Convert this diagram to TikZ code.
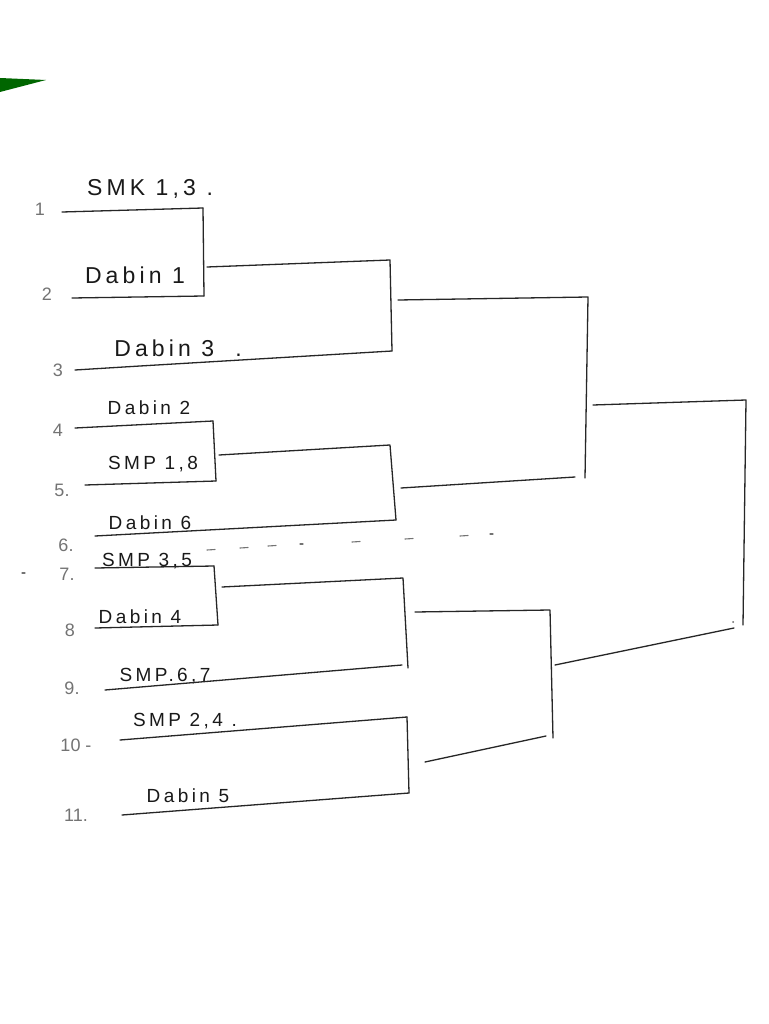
\documentclass[tikz,border=0pt]{standalone}
\usepackage{fontspec}
\setmainfont{Liberation Sans}
\newfontfamily\handfont[LetterSpace=18]{Liberation Sans}
\begin{document}
\begin{tikzpicture}[x=1pt,y=-1pt,
  ink/.style={draw=black!85, line width=1.3pt, line cap=round, line join=round},
  lbl/.style={font=\handfont\fontsize{23}{25}\selectfont, text=black!90, inner sep=0pt},
  small/.style={font=\handfont\fontsize{19}{21}\selectfont},
  num/.style={font=\fontsize{18}{20}\selectfont, text=black!55, inner sep=0pt},
  sep/.style={draw=black!55, line width=1.1pt, line cap=round}]
\useasboundingbox (0,0) rectangle (768,1024);
\fill[white] (0,0) rectangle (768,1024);
\fill[green!40!black] (0,78) -- (46,80) -- (0,92) -- cycle;

% number nodes
\node[num] (n1) at (40,209) {1};
\node[num] (n2) at (47,294) {2};
\node[num] (n3) at (58,370) {3};
\node[num] (n4) at (58,430) {4};
\node[num] (n5) at (62,490) {5.};
\node[num] (n6) at (66,545) {6.};
\node[num] (n7) at (67,574) {7.};
\node[num] (n8) at (70,630) {8};
\node[num] (n9) at (72,688) {9.};
\node[num] (n10) at (76,745) {10 -};
\node[num] (n11) at (76,815) {11.};

% entry labels
\node[lbl] (t1) at (150,189) {SMK 1,3 .};
\node[lbl] (t2) at (135,275) {Dabin 1};
\node[lbl] (t3) at (178,348) {Dabin 3 \ .};
\node[lbl,small] (t4) at (149,408) {Dabin 2};
\node[lbl,small] (t5) at (153,464) {SMP 1,8};
\node[lbl,small] (t6) at (150,523) {Dabin 6};
\node[lbl,small] (t7) at (147,561) {SMP 3,5};
\node[lbl,small] (t8) at (140,617) {Dabin 4};
\node[lbl,small] (t9) at (165,676) {SMP.6,7};
\node[lbl,small] (t10) at (185,721) {SMP 2,4 .};
\node[lbl,small] (t11) at (188,796) {Dabin 5};

% coordinates of line ends
\coordinate (s1) at (62,212);  \coordinate (e1) at (203,208);
\coordinate (s2) at (72,298);  \coordinate (e2) at (204,296);
\coordinate (a0) at (207,267); \coordinate (b1) at (390,260);
\coordinate (s3) at (75,370);  \coordinate (e3) at (392,351);
\coordinate (b0) at (398,300); \coordinate (c1) at (588,297);
\coordinate (s4) at (75,428);  \coordinate (e4) at (213,421);
\coordinate (s5) at (85,485);  \coordinate (e5) at (216,481);
\coordinate (d0) at (219,455); \coordinate (x1) at (390,445);
\coordinate (s6) at (95,536);  \coordinate (e6) at (396,520);
\coordinate (x0) at (401,488); \coordinate (c2) at (575,477);
\coordinate (c3) at (585,478);
\coordinate (f0) at (593,405); \coordinate (f1) at (746,400);
\coordinate (f2) at (743,625);
\coordinate (s7) at (95,568);  \coordinate (e7) at (214,566);
\coordinate (s8) at (95,628);  \coordinate (e8) at (218,625);
\coordinate (g0) at (222,587); \coordinate (h1) at (403,578);
\coordinate (s9) at (105,690); \coordinate (e9) at (402,665);
\coordinate (h2) at (408,668);
\coordinate (h0) at (415,612); \coordinate (i1) at (550,610);
\coordinate (i2) at (553,738);
\coordinate (s10) at (120,740); \coordinate (e10) at (407,717);
\coordinate (s11) at (122,815); \coordinate (e11) at (409,793);
\coordinate (j0) at (425,762); \coordinate (j1) at (546,736);
\coordinate (i0) at (555,665); \coordinate (k1) at (734,628);

% entry lines
\draw[ink] (s1) -- (e1);
\draw[ink] (s2) -- (e2);
\draw[ink] (s3) -- (140,366) -- (e3);
\draw[ink] (s4) -- (e4);
\draw[ink] (s5) -- (e5);
\draw[ink] (s6) -- (e6);
\draw[ink] (s7) -- (e7);
\draw[ink] (s8) -- (e8);
\draw[ink] (s9) -- (e9);
\draw[ink] (s10) -- (e10);
\draw[ink] (s11) -- (e11);

% brackets
\draw[ink] (e1) -- (e2);
\draw[ink] (a0) -- (b1) -- (e3);
\draw[ink] (b0) -- (c1) -- (c3);
\draw[ink] (e4) -- (e5);
\draw[ink] (d0) -- (x1) -- (e6);
\draw[ink] (x0) -- (c2);
\draw[ink] (f0) -- (f1) -- (f2);
\draw[ink] (e7) -- (e8);
\draw[ink] (g0) -- (h1) -- (h2);
\draw[ink] (h0) -- (i1) -- (i2);
\draw[ink] (e10) -- (e11);
\draw[ink] (j0) -- (j1);
\draw[ink] (i0) -- (k1);
\fill[black!60] (733,622) circle (1);

% dashed separator
\foreach \xa/\ya in {207/550, 240/548, 268/546, 352/542, 405/539, 460/536}
  \draw[sep] (\xa,\ya) -- ++(8,-0.5);
\foreach \xa/\ya in {300/544, 490/534, 22/573}
  \draw[sep] (\xa,\ya) -- ++(3,0);
\end{tikzpicture}
\end{document}
